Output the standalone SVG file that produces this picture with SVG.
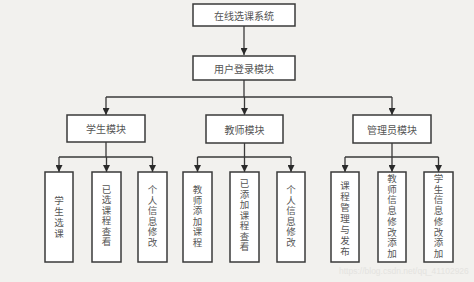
<svg xmlns="http://www.w3.org/2000/svg" width="474" height="282" viewBox="0 0 474 282">
<style>
.box{fill:#ffffff;stroke:#3a3a3a;stroke-width:1.5}
.t{font-family:"Noto Sans CJK SC","Noto Sans",sans-serif;font-size:10px;fill:#555;text-anchor:middle;dominant-baseline:central}
.v{font-family:"Liberation Sans","Noto Sans CJK SC",sans-serif;font-size:9.5px;fill:#555;text-anchor:middle;dominant-baseline:central}
.c{fill:none;stroke:#3a3a3a;stroke-width:1.3}
</style>
<defs>
<marker id="ah" viewBox="0 0 8 8" refX="8" refY="4" markerWidth="7" markerHeight="7" markerUnits="userSpaceOnUse" orient="auto">
<path d="M0,0 L8,4 L0,8 Z" fill="#2a2a2a"/>
</marker>
</defs>
<rect width="474" height="282" fill="#f2f1ee"/>
<g id="connectors">
<path class="c" d="M244,26 V55" marker-end="url(#ah)"/>
<path class="c" d="M244,80 V97"/>
<path class="c" d="M106,97 H392"/>
<path class="c" d="M106,97 V115" marker-end="url(#ah)"/>
<path class="c" d="M244.5,97 V115" marker-end="url(#ah)"/>
<path class="c" d="M392,97 V115" marker-end="url(#ah)"/>
<path class="c" d="M106,142 V157 M59,157 H152.5"/>
<path class="c" d="M59,157 V172" marker-end="url(#ah)"/>
<path class="c" d="M106.5,157 V172" marker-end="url(#ah)"/>
<path class="c" d="M152.5,157 V172" marker-end="url(#ah)"/>
<path class="c" d="M244.5,143 V157 M197.5,157 H291"/>
<path class="c" d="M197.5,157 V172" marker-end="url(#ah)"/>
<path class="c" d="M244.5,157 V172" marker-end="url(#ah)"/>
<path class="c" d="M291,157 V172" marker-end="url(#ah)"/>
<path class="c" d="M392,143 V157 M345,157 H438.5"/>
<path class="c" d="M345,157 V172" marker-end="url(#ah)"/>
<path class="c" d="M392,157 V172" marker-end="url(#ah)"/>
<path class="c" d="M438.5,157 V172" marker-end="url(#ah)"/>
</g>
<g id="n-system"><rect class="box" x="193" y="4" width="102" height="22"/><text class="t" x="244" y="15">在线选课系统</text></g>
<g id="n-login"><rect class="box" x="193" y="56" width="102" height="24"/><text class="t" x="244" y="68">用户登录模块</text></g>
<g id="n-student"><rect class="box" x="67" y="115" width="78" height="27"/><text class="t" x="106" y="128.5">学生模块</text></g>
<g id="n-teacher"><rect class="box" x="206" y="115" width="77" height="28"/><text class="t" x="244.5" y="129">教师模块</text></g>
<g id="n-admin"><rect class="box" x="353" y="115" width="78" height="28"/><text class="t" x="392" y="129">管理员模块</text></g>
<g id="n-s1"><rect class="box" x="45" y="172" width="28" height="90"/>
<text class="v" x="59" y="200">学</text><text class="v" x="59" y="211">生</text><text class="v" x="59" y="222">选</text><text class="v" x="59" y="233">课</text></g>
<g id="n-s2"><rect class="box" x="92" y="172" width="29" height="90"/>
<text class="v" x="106.5" y="189">已</text><text class="v" x="106.5" y="199.5">选</text><text class="v" x="106.5" y="210">课</text><text class="v" x="106.5" y="220.5">程</text><text class="v" x="106.5" y="231">查</text><text class="v" x="106.5" y="241.5">看</text></g>
<g id="n-s3"><rect class="box" x="138" y="172" width="29" height="90"/>
<text class="v" x="152.5" y="189.5">个</text><text class="v" x="152.5" y="200">人</text><text class="v" x="152.5" y="210.5">信</text><text class="v" x="152.5" y="221">息</text><text class="v" x="152.5" y="231.5">修</text><text class="v" x="152.5" y="242">改</text></g>
<g id="n-t1"><rect class="box" x="183" y="172" width="29" height="90"/>
<text class="v" x="197.5" y="189.5">教</text><text class="v" x="197.5" y="200">师</text><text class="v" x="197.5" y="210.5">添</text><text class="v" x="197.5" y="221">加</text><text class="v" x="197.5" y="231.5">课</text><text class="v" x="197.5" y="242">程</text></g>
<g id="n-t2"><rect class="box" x="230" y="172" width="29" height="90"/>
<text class="v" x="244.5" y="183.5">已</text><text class="v" x="244.5" y="194">添</text><text class="v" x="244.5" y="204.5">加</text><text class="v" x="244.5" y="215">课</text><text class="v" x="244.5" y="225.5">程</text><text class="v" x="244.5" y="236">查</text><text class="v" x="244.5" y="246.5">看</text></g>
<g id="n-t3"><rect class="box" x="277" y="172" width="28" height="90"/>
<text class="v" x="291" y="189.5">个</text><text class="v" x="291" y="200">人</text><text class="v" x="291" y="210.5">信</text><text class="v" x="291" y="221">息</text><text class="v" x="291" y="231.5">修</text><text class="v" x="291" y="242">改</text></g>
<g id="n-a1"><rect class="box" x="331" y="172" width="28" height="90"/>
<text class="v" x="345" y="185">课</text><text class="v" x="345" y="196">程</text><text class="v" x="345" y="207">管</text><text class="v" x="345" y="218">理</text><text class="v" x="345" y="229">与</text><text class="v" x="345" y="240">发</text><text class="v" x="345" y="251">布</text></g>
<g id="n-a2"><rect class="box" x="378" y="172" width="28" height="90"/>
<text class="v" x="392" y="178.5">教</text><text class="v" x="392" y="189.2">师</text><text class="v" x="392" y="199.9">信</text><text class="v" x="392" y="210.6">息</text><text class="v" x="392" y="221.3">修</text><text class="v" x="392" y="232">改</text><text class="v" x="392" y="242.7">添</text><text class="v" x="392" y="253.4">加</text></g>
<g id="n-a3"><rect class="box" x="424" y="172" width="29" height="90"/>
<text class="v" x="438.5" y="178.5">学</text><text class="v" x="438.5" y="189.2">生</text><text class="v" x="438.5" y="199.9">信</text><text class="v" x="438.5" y="210.6">息</text><text class="v" x="438.5" y="221.3">修</text><text class="v" x="438.5" y="232">改</text><text class="v" x="438.5" y="242.7">添</text><text class="v" x="438.5" y="253.4">加</text></g>
<text x="339" y="274" font-family="Liberation Sans, sans-serif" font-size="8.5" fill="#e4e3e0">https://blog.csdn.net/qq_41102926</text>
</svg>
